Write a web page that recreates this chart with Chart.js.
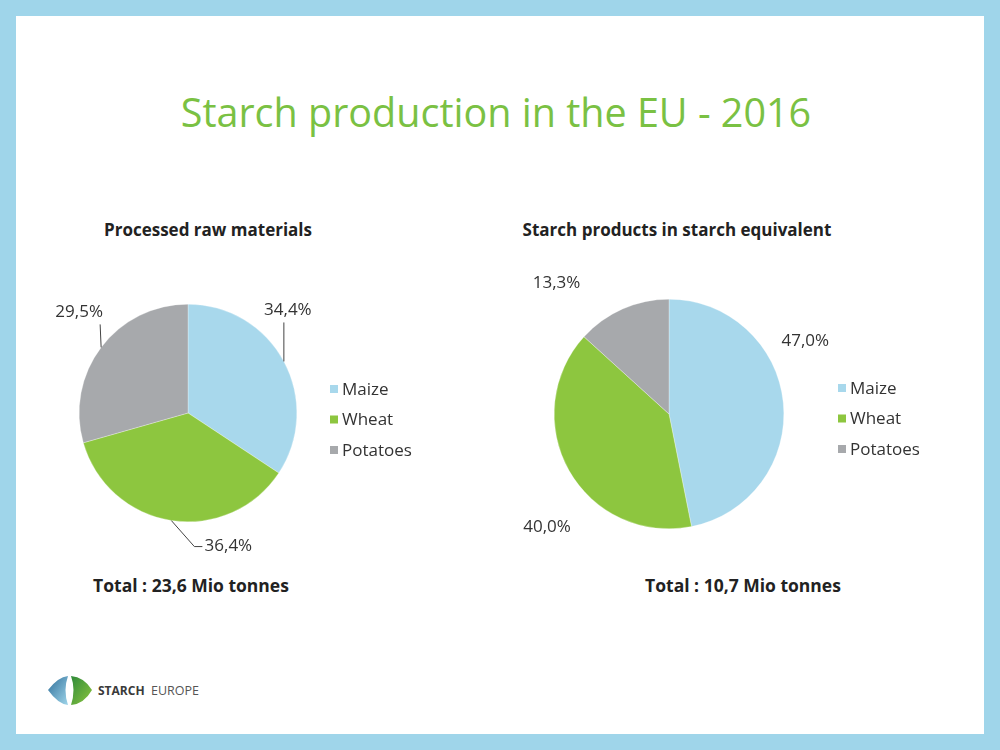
<!DOCTYPE html>
<html>
<head>
<meta charset="utf-8">
<script src="https://cdn.jsdelivr.net/npm/chart.js@4.4.1/dist/chart.umd.min.js"></script>
<style>
  html, body { margin: 0; padding: 0; }
  body { width: 1000px; height: 750px; background: #9fd5ea; position: relative; overflow: hidden; font-family: "Open Sans", sans-serif; }
  .sheet { position: absolute; left: 16px; top: 16px; width: 968px; height: 718px; background: #fff; }
  .title { position: absolute; left: -4px; width: 1000px; top: 85px; text-align: center; font-size: 39.5px; color: #7ac143; white-space: nowrap; }
  .sub { position: absolute; font-weight: bold; font-size: 17px; color: #222; white-space: nowrap; transform: translateX(-50%); }
  .box { position: absolute; }
  .logo { position: absolute; left: 46px; top: 674px; }
</style>
</head>
<body>
<div class="sheet"></div>
<div class="title">Starch production in the EU - 2016</div>
<div class="sub" style="left:208px; top:218px;">Processed raw materials</div>
<div class="sub" style="left:677px; top:218px;">Starch products in starch equivalent</div>
<div class="sub" id="total1" style="left:191px; top:573px; font-size:17.5px;"></div>
<div class="sub" id="total2" style="left:743px; top:573px; font-size:17.5px;"></div>
<div class="box" style="left:40px; top:260px; width:420px; height:320px;"><canvas id="rawChart"></canvas></div>
<div class="box" style="left:500px; top:250px; width:460px; height:330px;"><canvas id="starchChart"></canvas></div>
<svg class="logo" width="160" height="36" viewBox="0 0 160 36">
  <defs>
    <linearGradient id="gb" x1="0" y1="0" x2="1" y2="1">
      <stop offset="0" stop-color="#2f6f9a"/><stop offset="1" stop-color="#9fd5ea"/>
    </linearGradient>
    <linearGradient id="gg" x1="0" y1="0" x2="1" y2="1">
      <stop offset="0" stop-color="#2f8a3a"/><stop offset="1" stop-color="#8dc63f"/>
    </linearGradient>
  </defs>
  <path d="M2 16 Q12 3 22 2 Q17 16 22 31 Q12 30 2 16 Z" fill="url(#gb)"/>
  <path d="M25 2 Q38 3 46 16 Q38 30 25 31 Q30 16 25 2 Z" fill="url(#gg)"/>
  <text x="52" y="21" font-family="Open Sans" font-size="12" font-weight="bold" fill="#3a3a3a">STARCH</text>
  <text x="105" y="21" font-family="Open Sans" font-size="12.5" fill="#555">EUROPE</text>
</svg>
<script>
const categories = ['Maize', 'Wheat', 'Potatoes'];
const rawMaterialShares = [34.4, 36.4, 29.5];
const starchProductShares = [47.0, 40.0, 13.3];
const totalTonnes = [23.6, 10.7];
const sliceColors = ['#a8d8ec', '#8dc63f', '#a7a9ac'];

const fmt = v => v.toFixed(1).replace('.', ',');

document.getElementById('total1').textContent = 'Total : ' + fmt(totalTonnes[0]) + ' Mio tonnes';
document.getElementById('total2').textContent = 'Total : ' + fmt(totalTonnes[1]) + ' Mio tonnes';

// draws the % labels (with leader lines) and the legend beside the pie
const pieDecor = {
  id: 'pieDecor',
  afterDraw(chart, args, opts) {
    const ctx = chart.ctx;
    const arcs = chart.getDatasetMeta(0).data;
    const values = chart.data.datasets[0].data;
    ctx.save();
    ctx.font = '17px "Open Sans"';
    ctx.fillStyle = '#333';
    ctx.textBaseline = 'middle';
    arcs.forEach((arc, i) => {
      const p = arc.getProps(['x', 'y', 'startAngle', 'endAngle', 'outerRadius'], true);
      const mid = (p.startAngle + p.endAngle) / 2;
      const ex = p.x + Math.cos(mid) * p.outerRadius;
      const ey = p.y + Math.sin(mid) * p.outerRadius;
      const lab = opts.labels[i];
      if (lab.line) {
        ctx.strokeStyle = '#444';
        ctx.lineWidth = 1;
        ctx.beginPath();
        ctx.moveTo(ex, ey);
        lab.line.forEach(pt => ctx.lineTo(ex + pt[0], ey + pt[1]));
        ctx.stroke();
      }
      ctx.textAlign = 'center';
      ctx.fillText(fmt(values[i]) + '%', ex + lab.dx, ey + lab.dy);
    });
    // legend
    const c = arcs[0];
    const lg = opts.legend;
    ctx.textAlign = 'left';
    chart.data.labels.forEach((name, i) => {
      const y = c.y + lg.y + i * lg.gap;
      ctx.fillStyle = chart.data.datasets[0].backgroundColor[i];
      ctx.fillRect(c.x + lg.x, y - 4, 8, 8);
      ctx.fillStyle = '#333';
      ctx.fillText(name, c.x + lg.x + 12, y + 1);
    });
    ctx.restore();
  }
};

function makePie(id, values, padding, decor) {
  return new Chart(document.getElementById(id), {
    type: 'pie',
    data: {
      labels: categories,
      datasets: [{
        data: values,
        backgroundColor: sliceColors,
        borderColor: '#ffffff',
        borderWidth: 0.3,
        hoverOffset: 0
      }]
    },
    options: {
      responsive: true,
      maintainAspectRatio: false,
      animation: false,
      layout: { padding: padding },
      plugins: {
        legend: { display: false },
        tooltip: { enabled: false },
        pieDecor: decor
      }
    },
    plugins: [pieDecor]
  });
}

makePie('rawChart', rawMaterialShares, { left: 39, right: 163, top: 44, bottom: 58 }, {
  labels: [
    { dx: 4, dy: -51, line: [[0, -39]] },
    { dx: 57, dy: 26, line: [[23, 26], [31, 26]] },
    { dx: -22, dy: -35, line: [[-1, -23]] }
  ],
  legend: { x: 142, y: -24, gap: 30.5 }
});

makePie('starchChart', starchProductShares, { left: 54, right: 176, top: 49, bottom: 51 }, {
  labels: [
    { dx: 22, dy: -62 },
    { dx: -22, dy: 57 },
    { dx: -66, dy: -26 }
  ],
  legend: { x: 169, y: -26, gap: 30.5 }
});
</script>
</body>
</html>
